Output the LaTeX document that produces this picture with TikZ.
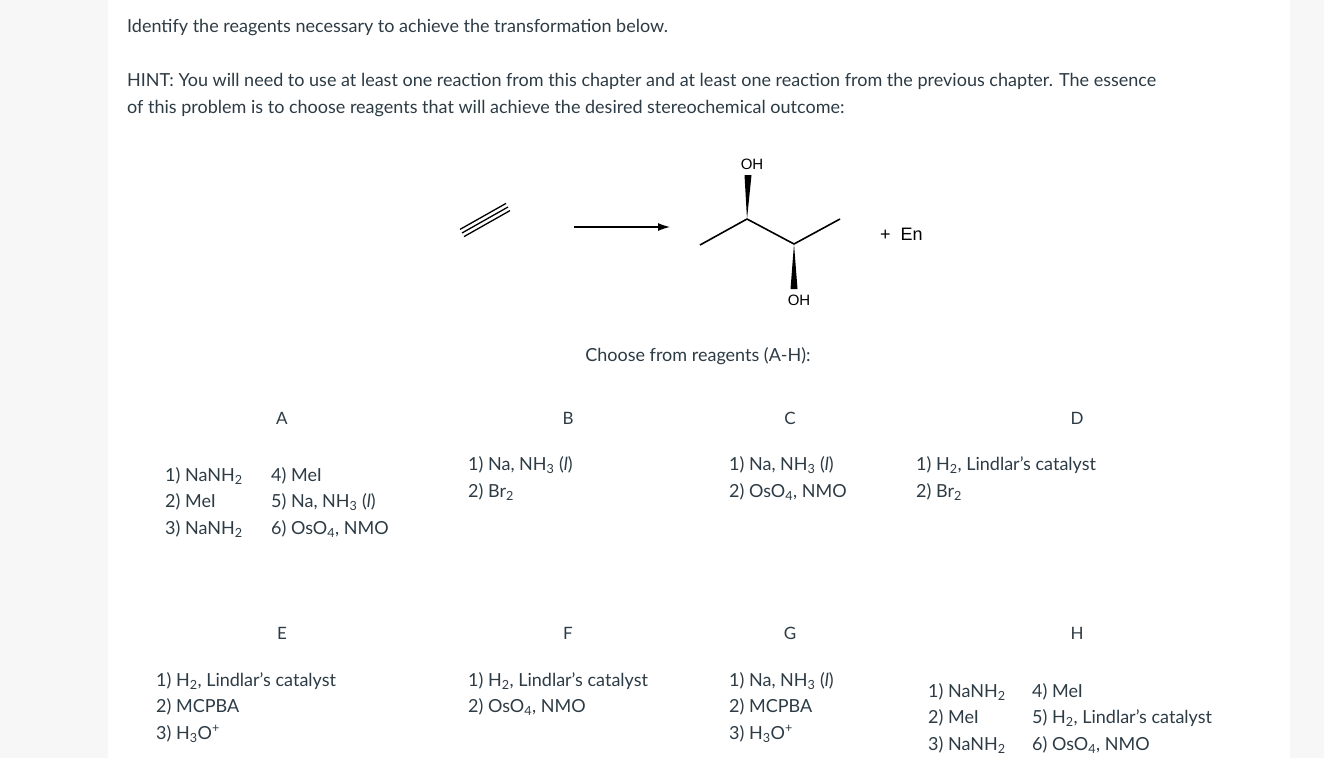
\documentclass[tikz,border=0pt]{standalone}
\usepackage{fontspec}
\usetikzlibrary{arrows.meta}
\setmainfont{Lato}
\newfontfamily\arialf{Liberation Sans}
\definecolor{txt}{HTML}{2D3B45}
\definecolor{marg}{HTML}{F7F7F7}
\newcommand{\sbs}[1]{\textsubscript{#1}}
\newcommand{\sps}[1]{\textsuperscript{#1}}
\begin{document}
\begin{tikzpicture}[x=1pt,y=-1pt,
  t/.style={anchor=base west,inner sep=0pt,text=txt,font=\fontsize{18}{22}\selectfont},
  lab/.style={anchor=base,inner sep=0pt,text=txt,font=\fontsize{17}{20}\selectfont},
  mol/.style={inner sep=0pt,font=\arialf\fontsize{15}{18}\selectfont},
  bond/.style={line width=1.6pt}]
\useasboundingbox (0,0) rectangle (1324,758);
\fill[marg] (0,0) rectangle (1324,758);
\fill[white] (108,0) rectangle (1290,758);
\node[t] (q) at (127,32) {Identify the reagents necessary to achieve the transformation below.};
\node[t] (h1) at (127,86) {HINT: You will need to use at least one reaction from this chapter and at least one reaction from the previous chapter. The essence};
\node[t] (h2) at (127,113) {of this problem is to choose reagents that will achieve the desired stereochemical outcome:};
% alkyne
\foreach \d in {-4,0,4} \draw[line width=1.3pt] (462+0.5*\d,233+0.9*\d) -- (508+0.5*\d,207+0.9*\d);
\coordinate (a1) at (574,227); \coordinate (a2) at (670,227);
\draw[line width=1.2pt,-{Latex[length=12pt,width=8pt]}] (a1) -- (a2);
\coordinate (m1) at (700,245); \coordinate (m2) at (747,219); \coordinate (m3) at (794,244); \coordinate (m4) at (840,219);
\draw[bond,line join=round] (m1) -- (m2) -- (m3) -- (m4);
\node[mol] (oh1) at (752,164) {OH};
\node[mol] (oh2) at (799,300) {OH};
\fill (m2) -- (744.5,175) -- (751.5,175) -- cycle;
\fill (m3) -- (790.5,289) -- (797.5,289) -- cycle;
\node[mol,font=\arialf\fontsize{18}{20}\selectfont,anchor=base west] (en) at (880,240) {+\ \ En};
\node[lab,font=\fontsize{18}{22}\selectfont] (ch) at (698,361) {Choose from reagents (A-H):};
% letters
\node[lab] (A) at (282,424) {A}; \node[lab] (B) at (568,424) {B};
\node[lab] (C) at (790,424) {C}; \node[lab] (D) at (1077,424) {D};
\node[lab] (E) at (282,639) {E}; \node[lab] (F) at (568,639) {F};
\node[lab] (G) at (790,639) {G}; \node[lab] (H) at (1077,639) {H};
% A
\node[t] (a11) at (165,481) {1) NaNH\sbs{2}}; \node[t] (a14) at (271,481) {4) MeI};
\node[t] (a12) at (165,507) {2) MeI}; \node[t] (a15) at (271,507) {5) Na, NH\sbs{3} (\textit{l})};
\node[t] (a13) at (165,534) {3) NaNH\sbs{2}}; \node[t] (a16) at (271,534) {6) OsO\sbs{4}, NMO};
% B
\node[t] (b1) at (468,470) {1) Na, NH\sbs{3} (\textit{l})};
\node[t] (b2) at (468,497) {2) Br\sbs{2}};
% C
\node[t] (c1) at (729,470) {1) Na, NH\sbs{3} (\textit{l})};
\node[t] (c2) at (729,497) {2) OsO\sbs{4}, NMO};
% D
\node[t] (d1) at (916,470) {1) H\sbs{2}, Lindlar's catalyst};
\node[t] (d2) at (916,497) {2) Br\sbs{2}};
% E
\node[t] (e1) at (156,686) {1) H\sbs{2}, Lindlar's catalyst};
\node[t] (e2) at (156,712) {2) MCPBA};
\node[t] (e3) at (156,739) {3) H\sbs{3}O\sps{+}};
% F
\node[t] (f1) at (468,686) {1) H\sbs{2}, Lindlar's catalyst};
\node[t] (f2) at (468,712) {2) OsO\sbs{4}, NMO};
% G
\node[t] (g1) at (729,686) {1) Na, NH\sbs{3} (\textit{l})};
\node[t] (g2) at (729,712) {2) MCPBA};
\node[t] (g3) at (729,739) {3) H\sbs{3}O\sps{+}};
% H
\node[t] (h11) at (928,697) {1) NaNH\sbs{2}}; \node[t] (h14) at (1032,697) {4) MeI};
\node[t] (h12) at (928,723) {2) MeI}; \node[t] (h15) at (1032,723) {5) H\sbs{2}, Lindlar's catalyst};
\node[t] (h13) at (928,750) {3) NaNH\sbs{2}}; \node[t] (h16) at (1032,750) {6) OsO\sbs{4}, NMO};
\end{tikzpicture}
\end{document}
